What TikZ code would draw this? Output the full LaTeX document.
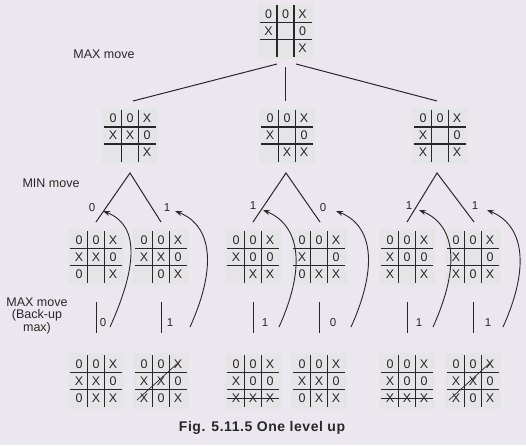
\documentclass[tikz,border=0pt]{standalone}
\usepackage{fontspec}
\setmainfont{Liberation Sans}
\usetikzlibrary{arrows.meta}
\definecolor{bgc}{RGB}{236,230,239}
\definecolor{boardc}{RGB}{229,228,231}
\definecolor{ink}{RGB}{40,40,40}
\newcommand{\tttboard}[6]{%
  \node[boardnode] (#1) at (#2,#3) {};
  \draw[gridline] (#2-8.5,#3-26) -- (#2-8.5,#3+26);
  \draw[gridline] (#2+8.5,#3-26) -- (#2+8.5,#3+26);
  \draw[gridline] (#2-26,#3-8.5) -- (#2+26,#3-8.5);
  \draw[gridline] (#2-26,#3+8.5) -- (#2+26,#3+8.5);
  \foreach \a/\b/\c [count=\r] in {#4,#5,#6} {
    \node[cell] at (#2-17,#3+17*\r-34) {\a};
    \node[cell] at (#2,#3+17*\r-34) {\b};
    \node[cell] at (#2+17,#3+17*\r-34) {\c};
  }%
}
\tikzset{
  boardnode/.style={minimum width=56pt, minimum height=56pt, fill=boardc, inner sep=0pt, draw=none},
  gridline/.style={draw=ink, line width=1.4pt},
  cell/.style={inner sep=0pt, text=ink, font=\fontsize{12.5}{14}\selectfont},
  conn/.style={draw=ink, line width=1pt},
  backarc/.style={draw=ink, line width=0.9pt, -{Stealth[length=7pt,width=5pt]}},
  lbl/.style={text=ink, font=\fontsize{12.5}{11.5}\selectfont, inner sep=0pt, align=center},
  val/.style={text=ink, font=\fontsize{11.5}{13}\selectfont, inner sep=0pt},
  strike/.style={draw=ink, line width=0.7pt},
}
\begin{document}
\begin{tikzpicture}[x=1pt,y=-1pt]
\fill[bgc] (0,0) rectangle (526,445);
\useasboundingbox (0,0) rectangle (526,445);

% boards
\tttboard{top}{285.5}{31}{0/0/X}{X/~/0}{~/~/X}
\tttboard{la}{130}{135.5}{0/0/X}{X/X/0}{~/~/X}
\tttboard{lb}{287}{135.5}{0/0/X}{X/~/0}{~/X/X}
\tttboard{lc}{440}{135.5}{0/0/X}{X/~/0}{X/~/X}

\tttboard{c1}{96}{257}{0/0/X}{X/X/0}{0/~/X}
\tttboard{c2}{161}{257}{0/0/X}{X/X/0}{~/0/X}
\tttboard{c3}{253}{257}{0/0/X}{X/0/0}{~/X/X}
\tttboard{c4}{319}{257}{0/0/X}{X/~/0}{0/X/X}
\tttboard{c5}{407}{257}{0/0/X}{X/0/0}{X/~/X}
\tttboard{c6}{473}{257}{0/0/X}{X/~/0}{X/0/X}

\tttboard{d1}{96}{381}{0/0/X}{X/X/0}{0/X/X}
\tttboard{d2}{161}{381}{0/0/X}{X/X/0}{X/0/X}
\tttboard{d3}{253}{381}{0/0/X}{X/0/0}{X/X/X}
\tttboard{d4}{319}{381}{0/0/X}{X/X/0}{0/X/X}
\tttboard{d5}{407}{381}{0/0/X}{X/0/0}{X/X/X}
\tttboard{d6}{473}{381}{0/0/X}{X/X/0}{X/0/X}

% win marks
\draw[strike] (137,400) -- (179,362);
\draw[strike] (449,400) -- (491,362);
\draw[strike] (227,398) -- (279,398);
\draw[strike] (381,398) -- (433,398);

% labels
\node[lbl] (maxtop) at (104,54) {MAX move};
\node[lbl] (minl) at (51,183) {MIN move};
\node[lbl] (maxlow) at (37,316) {MAX move\\(Back-up\\max)};
\node[font=\fontsize{14}{16}\selectfont\bfseries\addfontfeatures{LetterSpace=4}, text=ink, inner sep=0pt] (cap) at (262,428) {Fig. 5.11.5 One level up};

% top branches
\coordinate (ts1) at (277,64);
\coordinate (ts2) at (285,67);
\coordinate (ts3) at (296,64);
\coordinate (te1) at (133,101);
\coordinate (te2) at (285,101);
\coordinate (te3) at (437,101);
\draw[conn] (ts1) -- (te1);
\draw[conn] (ts2) -- (te2);
\draw[conn] (ts3) -- (te3);

% MIN triangles
\coordinate (pa) at (130,173);
\coordinate (pb) at (286,173);
\coordinate (pc) at (437,173);
\coordinate (q1) at (96,222);
\coordinate (q2) at (161,222);
\coordinate (q3) at (253,222);
\coordinate (q4) at (320,222);
\coordinate (q5) at (407,222);
\coordinate (q6) at (474,222);
\draw[conn] (q1) -- (pa) -- (q2);
\draw[conn] (q3) -- (pb) -- (q4);
\draw[conn] (q5) -- (pc) -- (q6);

% MIN values
\node[val] (m1) at (92,208) {0};
\node[val] (m2) at (167,208) {1};
\node[val] (m3) at (253,206) {1};
\node[val] (m4) at (323,208) {0};
\node[val] (m5) at (409,206) {1};
\node[val] (m6) at (475,206) {1};

% MAX move verticals
\foreach \i in {1,...,6}{
  \draw[conn, shorten <=17pt, shorten >=20pt] (c\i.south) -- (d\i.north);
}

% backed-up values
\node[val] (v1) at (103,323) {0};
\node[val] (v2) at (170,323) {1};
\node[val] (v3) at (265,323) {1};
\node[val] (v4) at (333,323) {0};
\node[val] (v5) at (419,323) {1};
\node[val] (v6) at (488,323) {1};

% back-up arcs
\coordinate (a1) at (110,327); \coordinate (h1) at (103,211);
\coordinate (a2) at (190,327); \coordinate (h2) at (175,211);
\coordinate (a3) at (279,327); \coordinate (h3) at (263,210);
\coordinate (a4) at (351,327); \coordinate (h4) at (336,211);
\coordinate (a5) at (433,327); \coordinate (h5) at (419,210);
\coordinate (a6) at (503,327); \coordinate (h6) at (487,210);
\draw[backarc] (a1) .. controls (138,265) and (139,225) .. (h1);
\draw[backarc] (a2) .. controls (218,265) and (211,225) .. (h2);
\draw[backarc] (a3) .. controls (307,265) and (299,225) .. (h3);
\draw[backarc] (a4) .. controls (379,265) and (372,225) .. (h4);
\draw[backarc] (a5) .. controls (461,265) and (455,225) .. (h5);
\draw[backarc] (a6) .. controls (531,265) and (523,225) .. (h6);
\end{tikzpicture}
\end{document}
